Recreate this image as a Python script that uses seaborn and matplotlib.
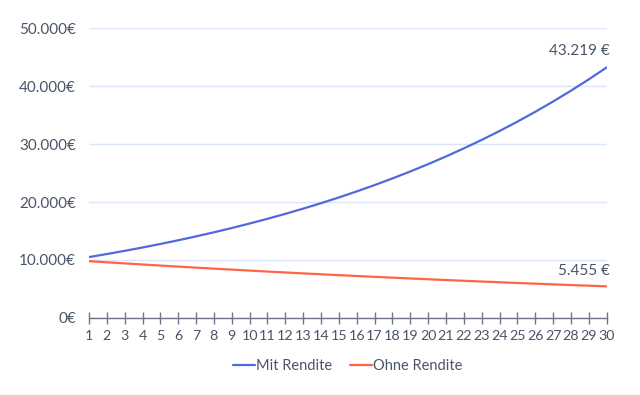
import matplotlib
matplotlib.use("Agg")
import matplotlib.pyplot as plt
import seaborn as sns
import pandas as pd
from matplotlib.ticker import FuncFormatter

# Jahre und Depotwerte
jahre = list(range(1, 31))
mit_rendite = [10500, 11025, 11576, 12155, 12763, 13401, 14071, 14775, 15513, 16289,
               17103, 17959, 18856, 19799, 20789, 21829, 22920, 24066, 25270, 26533,
               27860, 29253, 30715, 32251, 33864, 35557, 37335, 39201, 41161, 43219]
ohne_rendite = [9800, 9604, 9412, 9224, 9039, 8858, 8681, 8508, 8337, 8171,
                8007, 7847, 7690, 7536, 7386, 7238, 7093, 6951, 6812, 6676,
                6543, 6412, 6283, 6158, 6035, 5914, 5796, 5680, 5566, 5455]
serien = ["Mit Rendite", "Ohne Rendite"]
y_ticks = [0, 10000, 20000, 30000, 40000, 50000]

df = pd.DataFrame({
    "Jahr": jahre * 2,
    "Wert": mit_rendite + ohne_rendite,
    "Serie": [serien[0]] * len(jahre) + [serien[1]] * len(jahre),
})

sns.set_style("white")
plt.rcParams["font.family"] = ["Lato", "DejaVu Sans"]
text_col = "#4a5468"

fig = plt.figure(figsize=(6.4, 3.95), dpi=100)
ax = fig.add_axes([0.139, 0.195, 0.809, 0.734])

sns.lineplot(data=df, x="Jahr", y="Wert", hue="Serie",
             palette=["#5169dc", "#ff6445"], linewidth=1.6, ax=ax)

ax.set_xlim(1, 30)
ax.set_ylim(0, 50000)
ax.set_yticks(y_ticks)
ax.yaxis.set_major_formatter(FuncFormatter(lambda v, p: f"{int(v):,}€".replace(",", ".")))
ax.set_xticks(jahre)
ax.grid(axis="y", color="#dbe5fb", linewidth=1)
ax.set_axisbelow(True)
for s in ["top", "right", "left"]:
    ax.spines[s].set_visible(False)
ax.spines["bottom"].set_color("#6b7385")
ax.spines["bottom"].set_linewidth(1)
ax.tick_params(axis="x", bottom=True, direction="inout", length=9, width=1, color="#6b7385",
               labelcolor=text_col, labelsize=10.3, pad=4)
ax.tick_params(axis="y", left=False, labelcolor=text_col, labelsize=11, pad=6)
ax.set_xlabel("")
ax.set_ylabel("")

# Endwerte beschriften
ax.annotate(f"{mit_rendite[-1]:,} €".replace(",", "."), (jahre[-1], mit_rendite[-1]),
            xytext=(2, 7), textcoords="offset points", ha="right", va="bottom",
            color=text_col, fontsize=11)
ax.annotate(f"{ohne_rendite[-1]:,} €".replace(",", "."), (jahre[-1], ohne_rendite[-1]),
            xytext=(2, 6), textcoords="offset points", ha="right", va="bottom",
            color=text_col, fontsize=11)

leg = ax.legend(loc="upper center", bbox_to_anchor=(0.5, -0.095), ncol=2, frameon=False,
                handlelength=1.5, handletextpad=0.1, columnspacing=1.2, fontsize=10.5)
for t in leg.get_texts():
    t.set_color(text_col)

fig.savefig("out.png", dpi=100)
